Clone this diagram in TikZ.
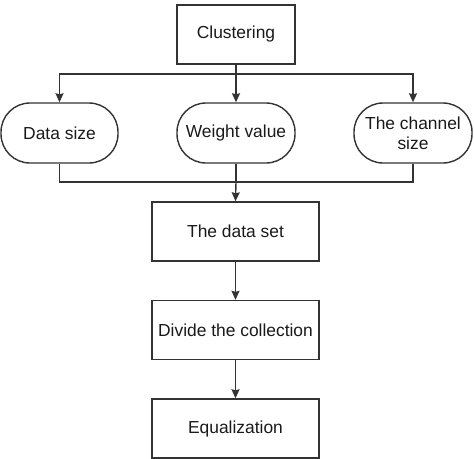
\documentclass[tikz,border=0pt]{standalone}
\usepackage{fontspec}
\setmainfont{Liberation Sans}
\usetikzlibrary{arrows.meta}
\begin{document}
\begin{tikzpicture}[x=1pt,y=-1pt,
  every node/.style={font=\fontsize{17.4}{20}\selectfont, text=black!90},
  box/.style={draw=black!80, line width=1.4pt, rectangle, inner sep=0pt, minimum width=118pt, minimum height=59pt, align=center},
  pill/.style={draw=black!80, line width=1.4pt, rectangle, rounded corners=29pt, inner sep=0pt, minimum width=118pt, minimum height=60pt, align=center},
  wide/.style={box, minimum width=167pt},
  conn/.style={draw=black!80, line width=1.4pt},
  arr/.style={conn, -{Stealth[length=9pt,width=8pt,inset=1pt]}}]
\useasboundingbox (0,0) rectangle (474,458);
\node[box] (clus) at (236,34.5) {Clustering};
\node[pill, minimum width=117pt] (ds) at (59.5,133) {Data size};
\node[pill] (wv) at (236,133) {Weight value};
\node[pill] (ch) at (413,133) {The channel\\size};
\node[wide] (set) at (235.5,231.5) {The data set};
\node[wide] (div) at (235.5,330) {Divide the collection};
\node[wide] (eq) at (235.5,428.5) {Equalization};
\coordinate (t) at (236,74);
\coordinate (b) at (236,182);
\draw[conn] (clus.south) -- (t);
\draw[arr] (t) -- (wv.north);
\draw[arr] (t) -| (ds.north);
\draw[arr] (t) -| (ch.north);
\draw[conn] (ds.south) |- (b);
\draw[conn] (ch.south) |- (b);
\draw[conn] (wv.south) -- (b);
\draw[arr] (b) -- (set.north);
\draw[arr] (set.south) -- (div.north);
\draw[arr] (div.south) -- (eq.north);
\end{tikzpicture}
\end{document}
